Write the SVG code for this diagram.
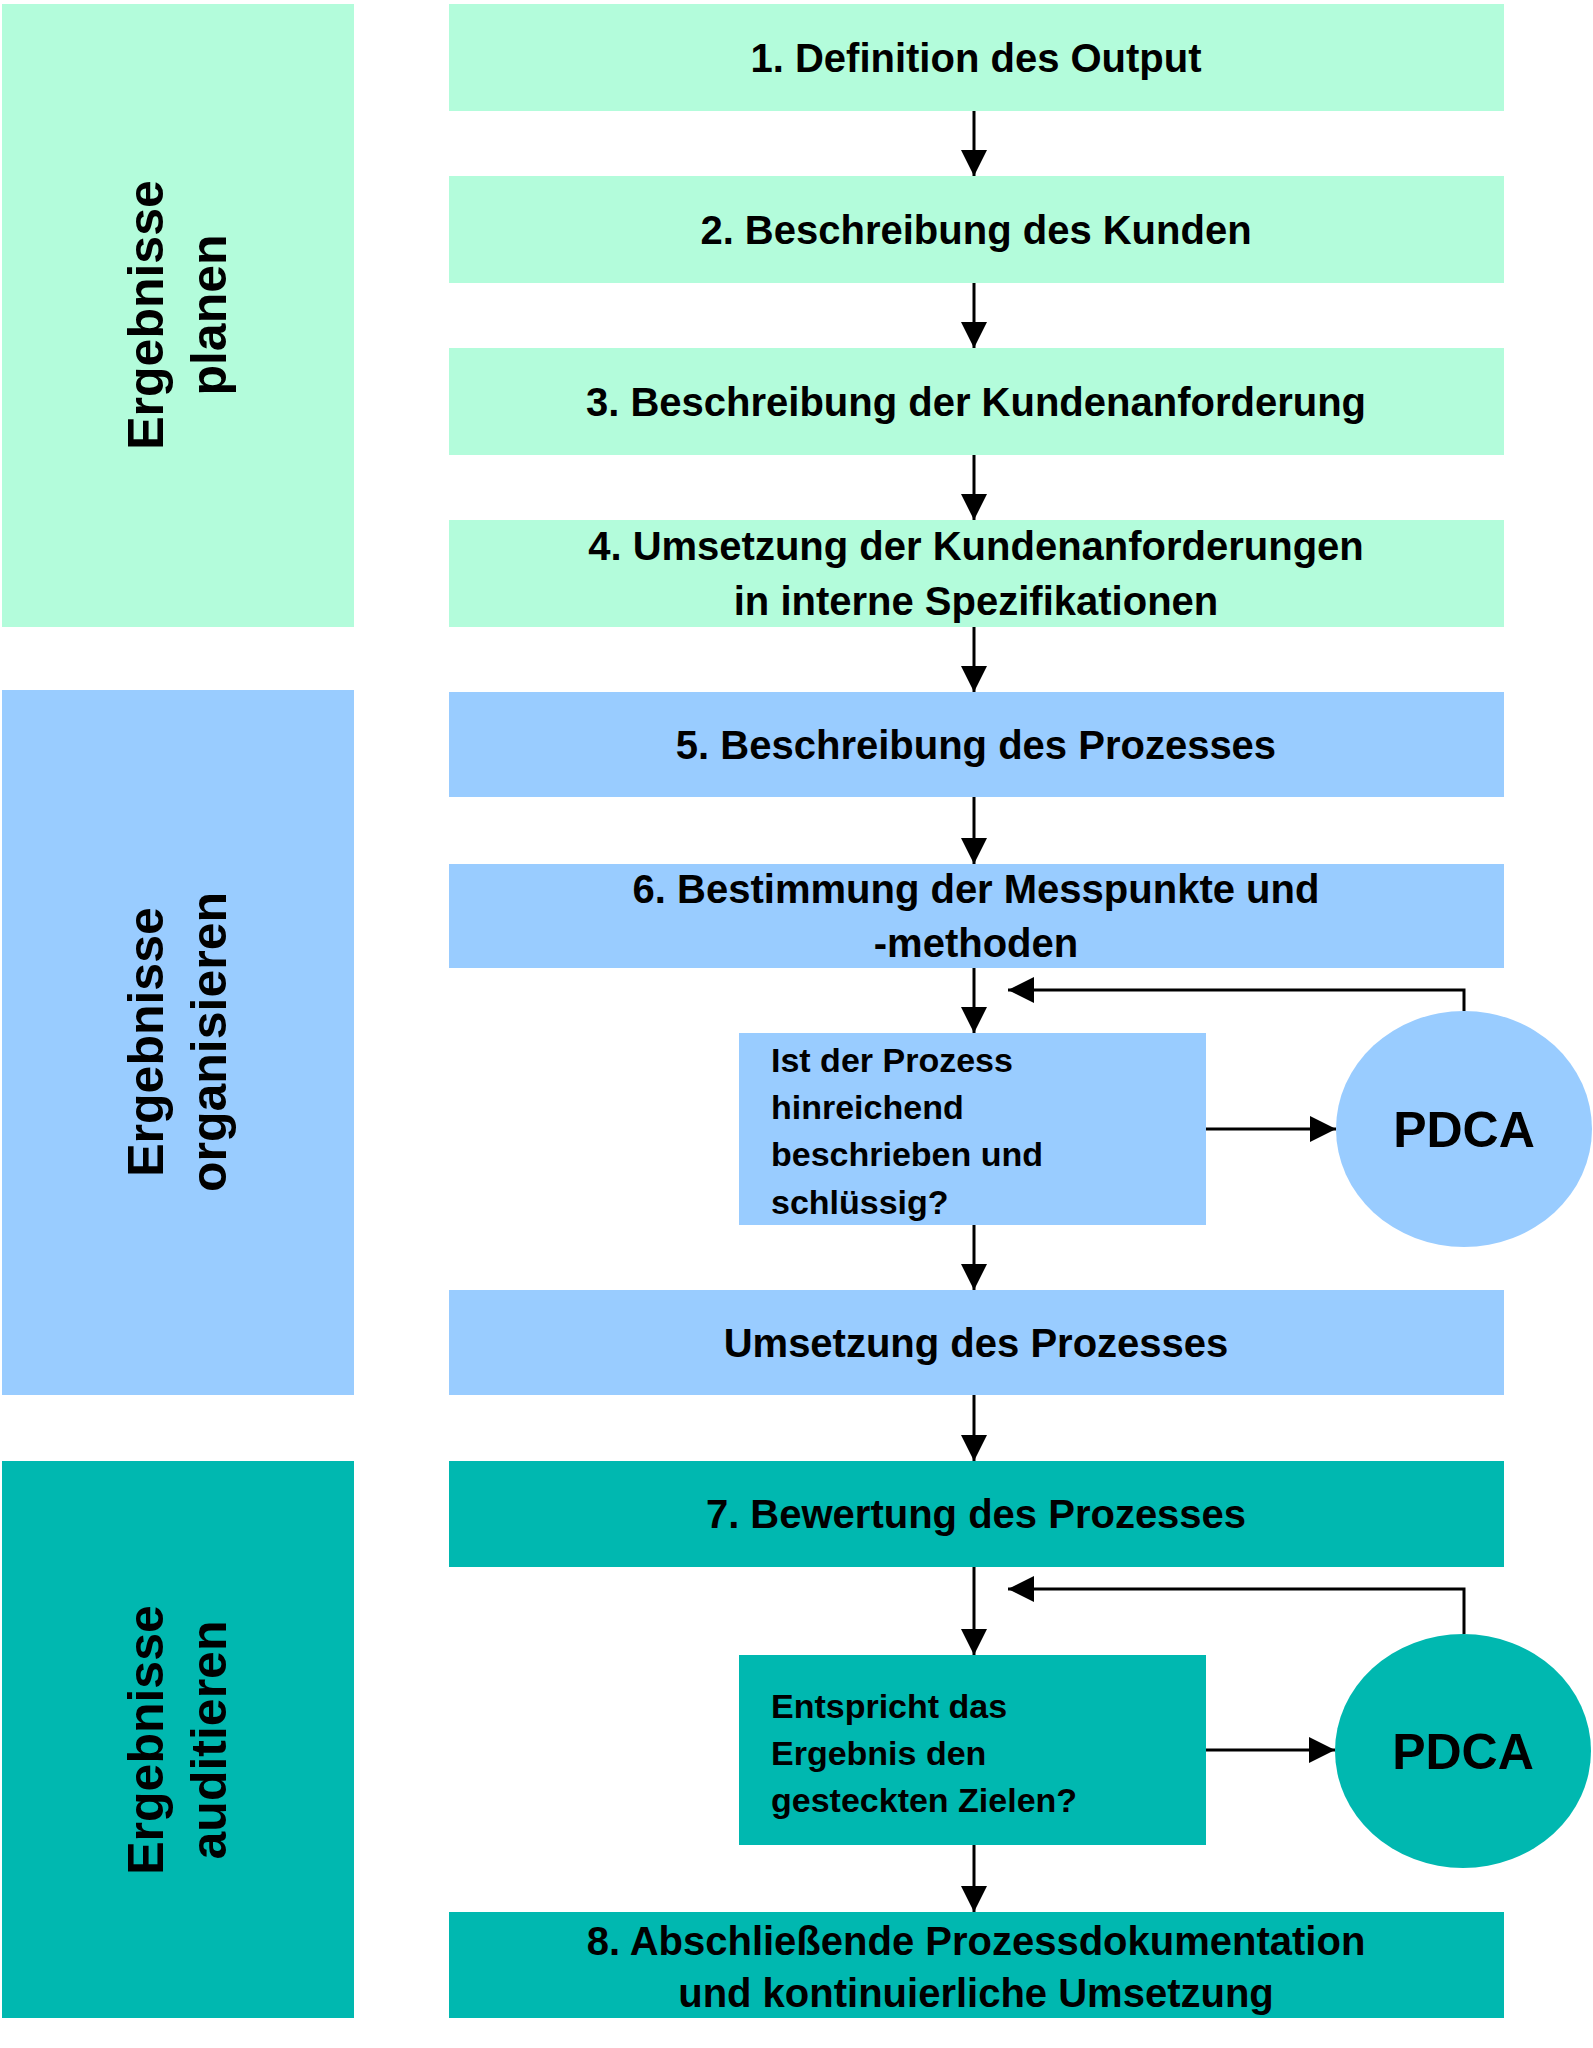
<svg xmlns="http://www.w3.org/2000/svg" width="1593" height="2048" viewBox="0 0 1593 2048">
<style>
.g{fill:#b3fcdb}.b{fill:#99ccff}.t{fill:#00b8b0}
text{font-family:"Liberation Sans",Arial,sans-serif;font-weight:bold;fill:#000}
.m{font-size:40px;text-anchor:middle}
.v{font-size:50px;text-anchor:middle}
.d{font-size:34px}
.p{font-size:50px;text-anchor:middle}
.c{stroke:#000;stroke-width:3;fill:none}
</style>
<defs><marker id="a" markerWidth="10" markerHeight="10" refX="9" refY="5" orient="auto" markerUnits="userSpaceOnUse" viewBox="0 0 10 10"><path d="M0,0L10,5L0,10z" fill="#000"/></marker>
<marker id="A" viewBox="0 0 10 10" refX="10" refY="5" markerWidth="26" markerHeight="26" orient="auto" markerUnits="userSpaceOnUse"><path d="M0,0L10,5L0,10z" fill="#000"/></marker></defs>
<g id="band1"><rect class="g" x="2" y="4" width="352" height="623"/><text class="v" transform="translate(163,315) rotate(-90)">Ergebnisse</text><text class="v" transform="translate(226,315) rotate(-90)">planen</text></g>
<g id="band2"><rect class="b" x="2" y="690" width="352" height="705"/><text class="v" transform="translate(163,1042) rotate(-90)">Ergebnisse</text><text class="v" transform="translate(226,1042) rotate(-90)">organisieren</text></g>
<g id="band3"><rect class="t" x="2" y="1461" width="352" height="557"/><text class="v" transform="translate(163,1740) rotate(-90)">Ergebnisse</text><text class="v" transform="translate(226,1740) rotate(-90)">auditieren</text></g>
<g id="n1"><rect class="g" x="449" y="4" width="1055" height="107"/><text class="m" x="976" y="72">1. Definition des Output</text></g>
<g id="n2"><rect class="g" x="449" y="176" width="1055" height="107"/><text class="m" x="976" y="244">2. Beschreibung des Kunden</text></g>
<g id="n3"><rect class="g" x="449" y="348" width="1055" height="107"/><text class="m" x="976" y="416">3. Beschreibung der Kundenanforderung</text></g>
<g id="n4"><rect class="g" x="449" y="520" width="1055" height="107"/><text class="m" x="976" y="560">4. Umsetzung der Kundenanforderungen</text><text class="m" x="976" y="615">in interne Spezifikationen</text></g>
<g id="n5"><rect class="b" x="449" y="692" width="1055" height="105"/><text class="m" x="976" y="759">5. Beschreibung des Prozesses</text></g>
<g id="n6"><rect class="b" x="449" y="864" width="1055" height="104"/><text class="m" x="976" y="903">6. Bestimmung der Messpunkte und</text><text class="m" x="976" y="957">-methoden</text></g>
<g id="q1"><rect class="b" x="739" y="1033" width="467" height="192"/><text class="d" x="771" y="1072">Ist der Prozess</text><text class="d" x="771" y="1119">hinreichend</text><text class="d" x="771" y="1166">beschrieben und</text><text class="d" x="771" y="1214">schlüssig?</text></g>
<g id="pdca1"><ellipse class="b" cx="1464" cy="1129" rx="128" ry="118"/><text class="p" x="1464" y="1147">PDCA</text></g>
<g id="n6b"><rect class="b" x="449" y="1290" width="1055" height="105"/><text class="m" x="976" y="1357">Umsetzung des Prozesses</text></g>
<g id="n7"><rect class="t" x="449" y="1461" width="1055" height="106"/><text class="m" x="976" y="1528">7. Bewertung des Prozesses</text></g>
<g id="q2"><rect class="t" x="739" y="1655" width="467" height="190"/><text class="d" x="771" y="1718">Entspricht das</text><text class="d" x="771" y="1765">Ergebnis den</text><text class="d" x="771" y="1812">gesteckten Zielen?</text></g>
<g id="pdca2"><ellipse class="t" cx="1463" cy="1751" rx="128" ry="117"/><text class="p" x="1463" y="1769">PDCA</text></g>
<g id="n8"><rect class="t" x="449" y="1912" width="1055" height="106"/><text class="m" x="976" y="1955">8. Abschließende Prozessdokumentation</text><text class="m" x="976" y="2007">und kontinuierliche Umsetzung</text></g>
<g id="connectors">
<path class="c" d="M974,111V176" marker-end="url(#A)"/>
<path class="c" d="M974,283V348" marker-end="url(#A)"/>
<path class="c" d="M974,455V520" marker-end="url(#A)"/>
<path class="c" d="M974,627V692" marker-end="url(#A)"/>
<path class="c" d="M974,797V864" marker-end="url(#A)"/>
<path class="c" d="M974,968V1033" marker-end="url(#A)"/>
<path class="c" d="M974,1225V1290" marker-end="url(#A)"/>
<path class="c" d="M974,1395V1461" marker-end="url(#A)"/>
<path class="c" d="M974,1567V1655" marker-end="url(#A)"/>
<path class="c" d="M974,1845V1912" marker-end="url(#A)"/>
<path class="c" d="M1206,1129H1336" marker-end="url(#A)"/>
<path class="c" d="M1464,1011V990H1008" marker-end="url(#A)"/>
<path class="c" d="M1206,1750H1335" marker-end="url(#A)"/>
<path class="c" d="M1464,1634V1589H1008" marker-end="url(#A)"/>
</g>
</svg>
